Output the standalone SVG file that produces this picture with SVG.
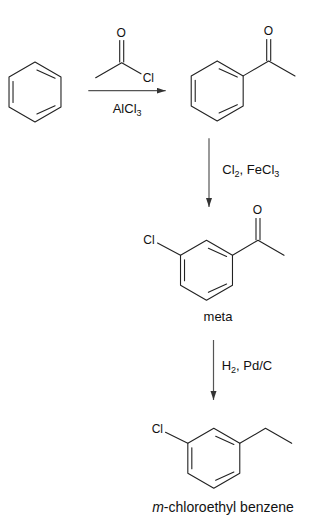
<svg xmlns="http://www.w3.org/2000/svg" width="322" height="530" viewBox="0 0 322 530">
<style>
.b{fill:none;stroke:#222;stroke-width:1.1;stroke-linecap:round;stroke-linejoin:round}
.a{stroke:#555;stroke-width:1.2;fill:none}
text{font-family:"Liberation Sans",Arial,Helvetica,sans-serif;fill:#111}
.r{font-size:13px}
.at{font-size:12px}
.sub{font-size:9px}
</style>
<defs>
<marker id="ah" markerWidth="10" markerHeight="8" refX="9" refY="3" orient="auto" markerUnits="userSpaceOnUse">
<path d="M0,0 L9,3 L0,6 Z" fill="#333"/>
</marker>
<g id="ring" class="b">
<polygon points="0,-30 25.98,-15 25.98,15 0,30 -25.98,15 -25.98,-15"/>
<line x1="1.9" y1="-22.04" x2="20.08" y2="-13.79"/>
<line x1="20.08" y1="13.79" x2="1.9" y2="22.04"/>
<line x1="-21.98" y1="-10.5" x2="-21.98" y2="10.5"/>
</g>
</defs>
<rect width="322" height="530" fill="#fff"/>

<g id="benzene">
<use href="#ring" x="35" y="92"/>
</g>

<g id="acetyl-chloride">
<polyline class="b" points="95.7,77.7 121.7,62.7 141,73.8"/>
<line class="b" x1="119.7" y1="40.5" x2="119.7" y2="62"/>
<line class="b" x1="123.7" y1="40.5" x2="123.7" y2="62"/>
<text class="at" x="121.2" y="36.7" text-anchor="middle">O</text>
<text class="at" x="142.7" y="81.7">Cl</text>
</g>

<g id="acetophenone">
<use href="#ring" x="217.2" y="90.9"/>
<polyline class="b" points="243.2,75.9 268.7,61 295,76"/>
<line class="b" x1="266.7" y1="39.5" x2="266.7" y2="60.5"/>
<line class="b" x1="270.7" y1="39.5" x2="270.7" y2="60.5"/>
<text class="at" x="268.5" y="35" text-anchor="middle">O</text>
</g>

<g id="meta-chloroacetophenone">
<use href="#ring" x="206.5" y="270.3"/>
<polyline class="b" points="232.5,255.3 258,240.3 284,255.3"/>
<line class="b" x1="256" y1="218.5" x2="256" y2="239.8"/>
<line class="b" x1="260" y1="218.5" x2="260" y2="239.8"/>
<text class="at" x="257.5" y="214.3" text-anchor="middle">O</text>
<line class="b" x1="180.5" y1="255.3" x2="157.5" y2="243"/>
<text class="at" x="143.3" y="244">Cl</text>
<text class="r" x="218" y="321" text-anchor="middle">meta</text>
</g>

<g id="m-chloroethylbenzene">
<use href="#ring" x="213.8" y="458.3"/>
<polyline class="b" points="239.8,443.3 265.5,428.3 291.7,443.3"/>
<line class="b" x1="187.8" y1="443.3" x2="165.5" y2="432.2"/>
<text class="at" x="151.7" y="432.7">Cl</text>
<text x="223" y="511.7" font-size="14" text-anchor="middle"><tspan font-style="italic">m</tspan>-chloroethyl benzene</text>
</g>

<g id="connectors">
<line class="a" x1="88.3" y1="90.7" x2="165.7" y2="90.7" marker-end="url(#ah)"/>
<text class="r" x="112.7" y="113.3">AlCl<tspan class="sub" dy="3">3</tspan></text>
<line class="a" x1="209" y1="138.3" x2="209" y2="207" marker-end="url(#ah)"/>
<text class="r" x="222.3" y="173.5">Cl<tspan class="sub" dy="3">2</tspan><tspan dy="-3">, FeCl</tspan><tspan class="sub" dy="3">3</tspan></text>
<line class="a" x1="213.5" y1="340" x2="213.5" y2="400" marker-end="url(#ah)"/>
<text class="r" x="221.7" y="369.5">H<tspan class="sub" dy="3">2</tspan><tspan dy="-3">, Pd/C</tspan></text>
</g>
</svg>
